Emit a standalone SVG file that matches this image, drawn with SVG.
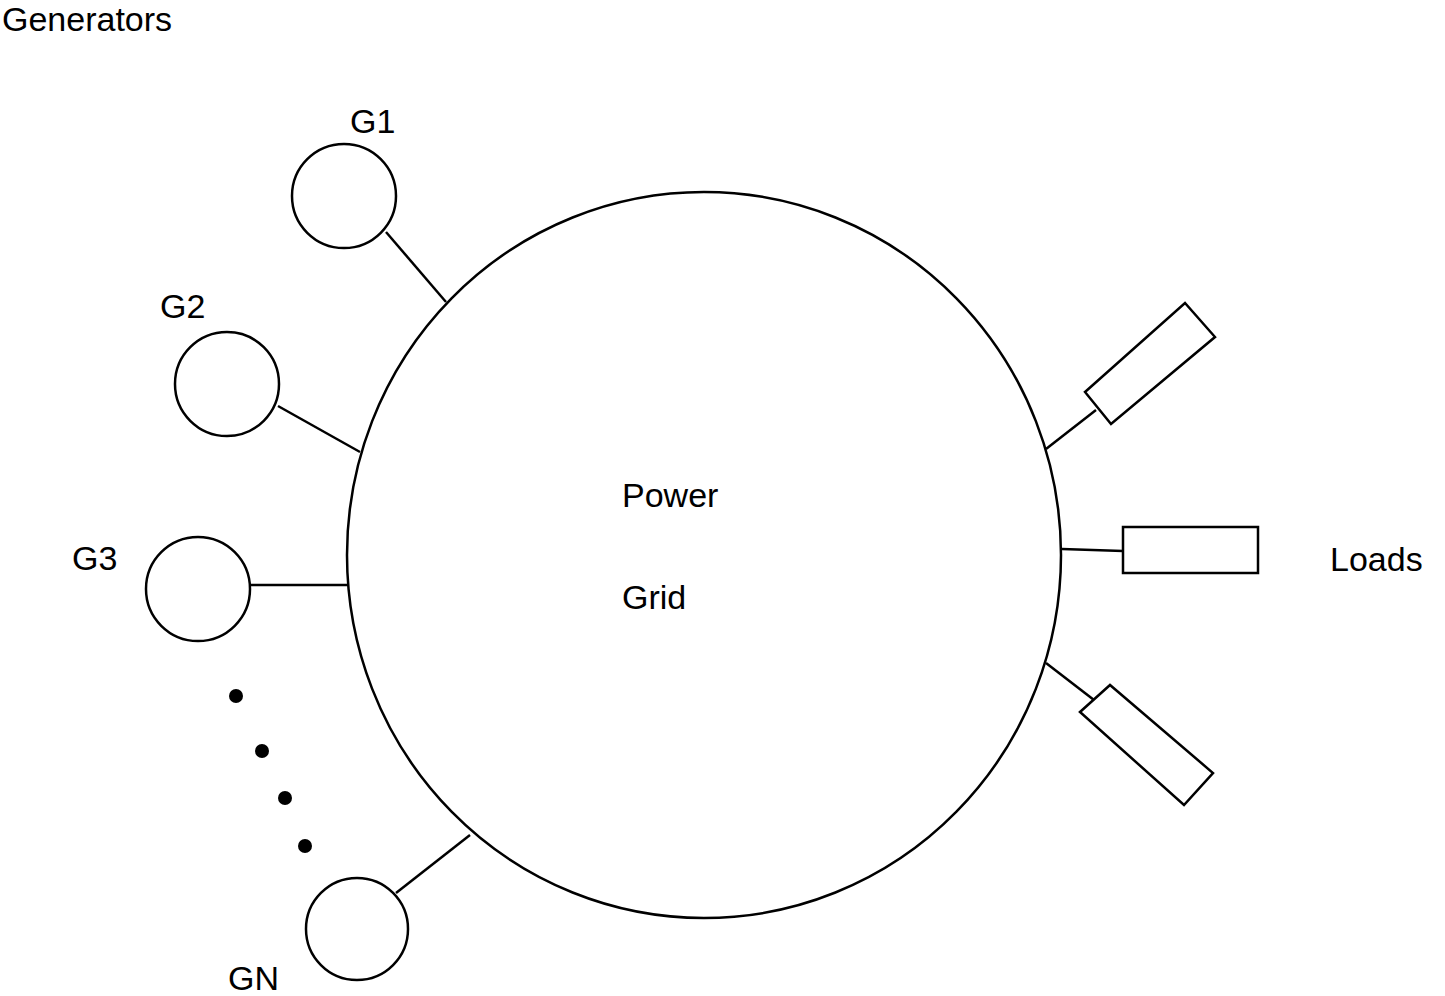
<svg xmlns="http://www.w3.org/2000/svg" width="1445" height="996" viewBox="0 0 1445 996">
<style>
.s{fill:#fff;stroke:#000;stroke-width:2.5}
.l{stroke:#000;stroke-width:2.5;fill:none}
text{font-family:"Liberation Sans",Arial,sans-serif;font-size:34px;fill:#000}
</style>
<rect width="1445" height="996" fill="#fff"/>
<text x="2" y="31">Generators</text>
<g id="connectors">
<line class="l" x1="386" y1="232" x2="446" y2="302"/>
<line class="l" x1="278" y1="406" x2="360" y2="452"/>
<line class="l" x1="250" y1="585" x2="348" y2="585"/>
<line class="l" x1="396" y1="893" x2="470" y2="835"/>
<line class="l" x1="1046" y1="449" x2="1096" y2="410"/>
<line class="l" x1="1062" y1="549" x2="1123" y2="551"/>
<line class="l" x1="1046" y1="663" x2="1094" y2="700"/>
</g>
<g id="grid"><ellipse class="s" cx="704" cy="555" rx="357" ry="363"/>
<text x="622" y="507">Power</text><text x="622" y="609">Grid</text></g>
<g id="g1"><circle class="s" cx="344" cy="196" r="52"/><text x="350" y="133">G1</text></g>
<g id="g2"><circle class="s" cx="227" cy="384" r="52"/><text x="160" y="318">G2</text></g>
<g id="g3"><circle class="s" cx="198" cy="589" r="52"/><text x="72" y="570">G3</text></g>
<g id="gn"><circle class="s" cx="357" cy="929" r="51"/><text x="228" y="990">GN</text></g>
<g id="dots"><circle cx="236" cy="696" r="7"/><circle cx="262" cy="751" r="7"/><circle cx="285" cy="798" r="7"/><circle cx="305" cy="846" r="7"/></g>
<g id="load1"><polygon class="s" points="1085,392 1185,303 1215,337 1111,424"/></g>
<g id="load2"><rect class="s" x="1123" y="527" width="135" height="46"/></g>
<g id="load3"><polygon class="s" points="1080,712 1110,685 1213,773 1184,805"/></g>
<text x="1330" y="571">Loads</text>
</svg>
